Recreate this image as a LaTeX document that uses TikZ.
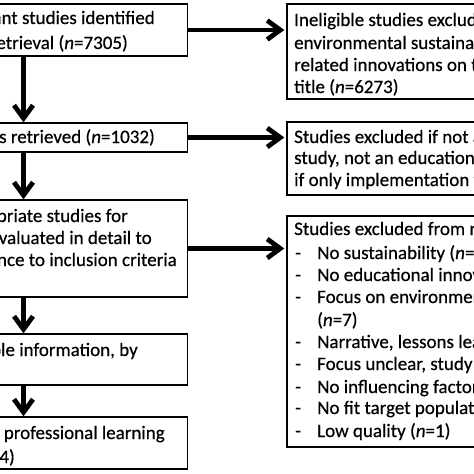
\documentclass[tikz,border=0pt]{standalone}
\usepackage{fontspec}
\setmainfont{Carlito}[FakeBold=0.45]
\usetikzlibrary{arrows.meta}
\begin{document}
\begin{tikzpicture}[x=1pt,y=-1pt,
  box/.style={draw=black,line width=1.4pt,fill=white,inner sep=0pt},
  arr/.style={line width=4.8pt,-{Straight Barb[length=13pt,width=19pt]}},
  txt/.style={font=\fontsize{19}{22}\selectfont,inner sep=0pt},
]
\useasboundingbox (0,0) rectangle (474,474);
\clip (0,0) rectangle (474,474);
\fill[white] (0,0) rectangle (474,474);
% left column boxes
\node[box,minimum width=328pt,minimum height=52pt] (b1) at (23.5,30) {};
\node[box,minimum width=328pt,minimum height=29pt] (b2) at (23.5,137.5) {};
\node[box,minimum width=328pt,minimum height=97pt] (b3) at (23.5,248.5) {};
\node[box,minimum width=328pt,minimum height=51pt] (b4) at (23.5,359.5) {};
\node[box,minimum width=328pt,minimum height=52pt] (b5) at (23.5,443) {};
% right column boxes
\node[box,minimum width=313pt,minimum height=95pt] (r1) at (443.5,51.5) {};
\node[box,minimum width=313pt,minimum height=73pt] (r2) at (443.5,158.5) {};
\node[box,minimum width=313pt,minimum height=231pt] (r3) at (443.5,331.5) {};
% connectors
\draw[arr] (b1.south) -- (b2.north);
\draw[arr] (b2.south) -- (b3.north);
\draw[arr] (b3.south) -- (b4.north);
\draw[arr] (b4.south) -- (b5.north);
\draw[arr,shorten >=2pt] (b1.east) -- (b1.east -| r1.west);
\draw[arr,shorten >=2pt] (b2.east) -- (b2.east -| r2.west);
\draw[arr,shorten >=2pt] (b3.east) -- (b3.east -| r3.west);
% left texts
\node[txt,anchor=base east] (t1a) at (155,24) {Potentially relevant studies identified};
\node[txt,anchor=base east] (t1b) at (128,49) {through retrieval (\textit{n}=7305)};
\node[txt,anchor=base east] (t2a) at (155,143) {Full-text studies retrieved (\textit{n}=1032)};
\node[txt,anchor=base east] (t3a) at (128,222) {Appropriate studies for};
\node[txt,anchor=base east] (t3b) at (152,244) {inclusion evaluated in detail to};
\node[txt,anchor=base east] (t3c) at (177,266) {determine relevance to inclusion criteria};
\node[txt,anchor=base east] (t4a) at (138,356) {Studies with suitable information, by};
\node[txt,anchor=base east] (t5a) at (165,439) {Studies on\hspace{12pt}professional learning};
\node[txt,anchor=base east] (t5b) at (15,463) {(\textit{n}=44)};
% right texts
\node[txt,anchor=base west] (u1a) at (294,26) {Ineligible studies excluded (no};
\node[txt,anchor=base west] (u1b) at (294,49) {environmental sustainability-};
\node[txt,anchor=base west] (u1c) at (294,71) {related innovations on the basis of};
\node[txt,anchor=base west] (u1d) at (294,93) {title (\textit{n}=6273)};
\node[txt,anchor=base west] (u2a) at (294,143) {Studies excluded if not an empirical};
\node[txt,anchor=base west] (u2b) at (294,164) {study, not an educational innovation, or};
\node[txt,anchor=base west] (u2c) at (294,186) {if only implementation was described};
\node[txt,anchor=base west] (u3h) at (294,235) {Studies excluded from review (\textit{n}=103)};
\foreach \yy/\tt [count=\i] in {259/{No sustainability (\textit{n}=73)},
  281/{No educational innovation (\textit{n}=5)},
  303/{Focus on environmental education only},
  348/{Narrative, lessons learned (\textit{n}=6)},
  370/{Focus unclear, study design unclear (\textit{n}=4)},
  393/{No influencing factors (\textit{n}=3)},
  414/{No fit target population (\textit{n}=4)},
  437/{Low quality (\textit{n}=1)}}{
  \node[txt,anchor=base west] (d\i) at (295,\yy) {-};
  \node[txt,anchor=base west] (e\i) at (317,\yy) {\tt};
}
\node[txt,anchor=base west] (e3b) at (317,326) {(\textit{n}=7)};
\end{tikzpicture}
\end{document}
